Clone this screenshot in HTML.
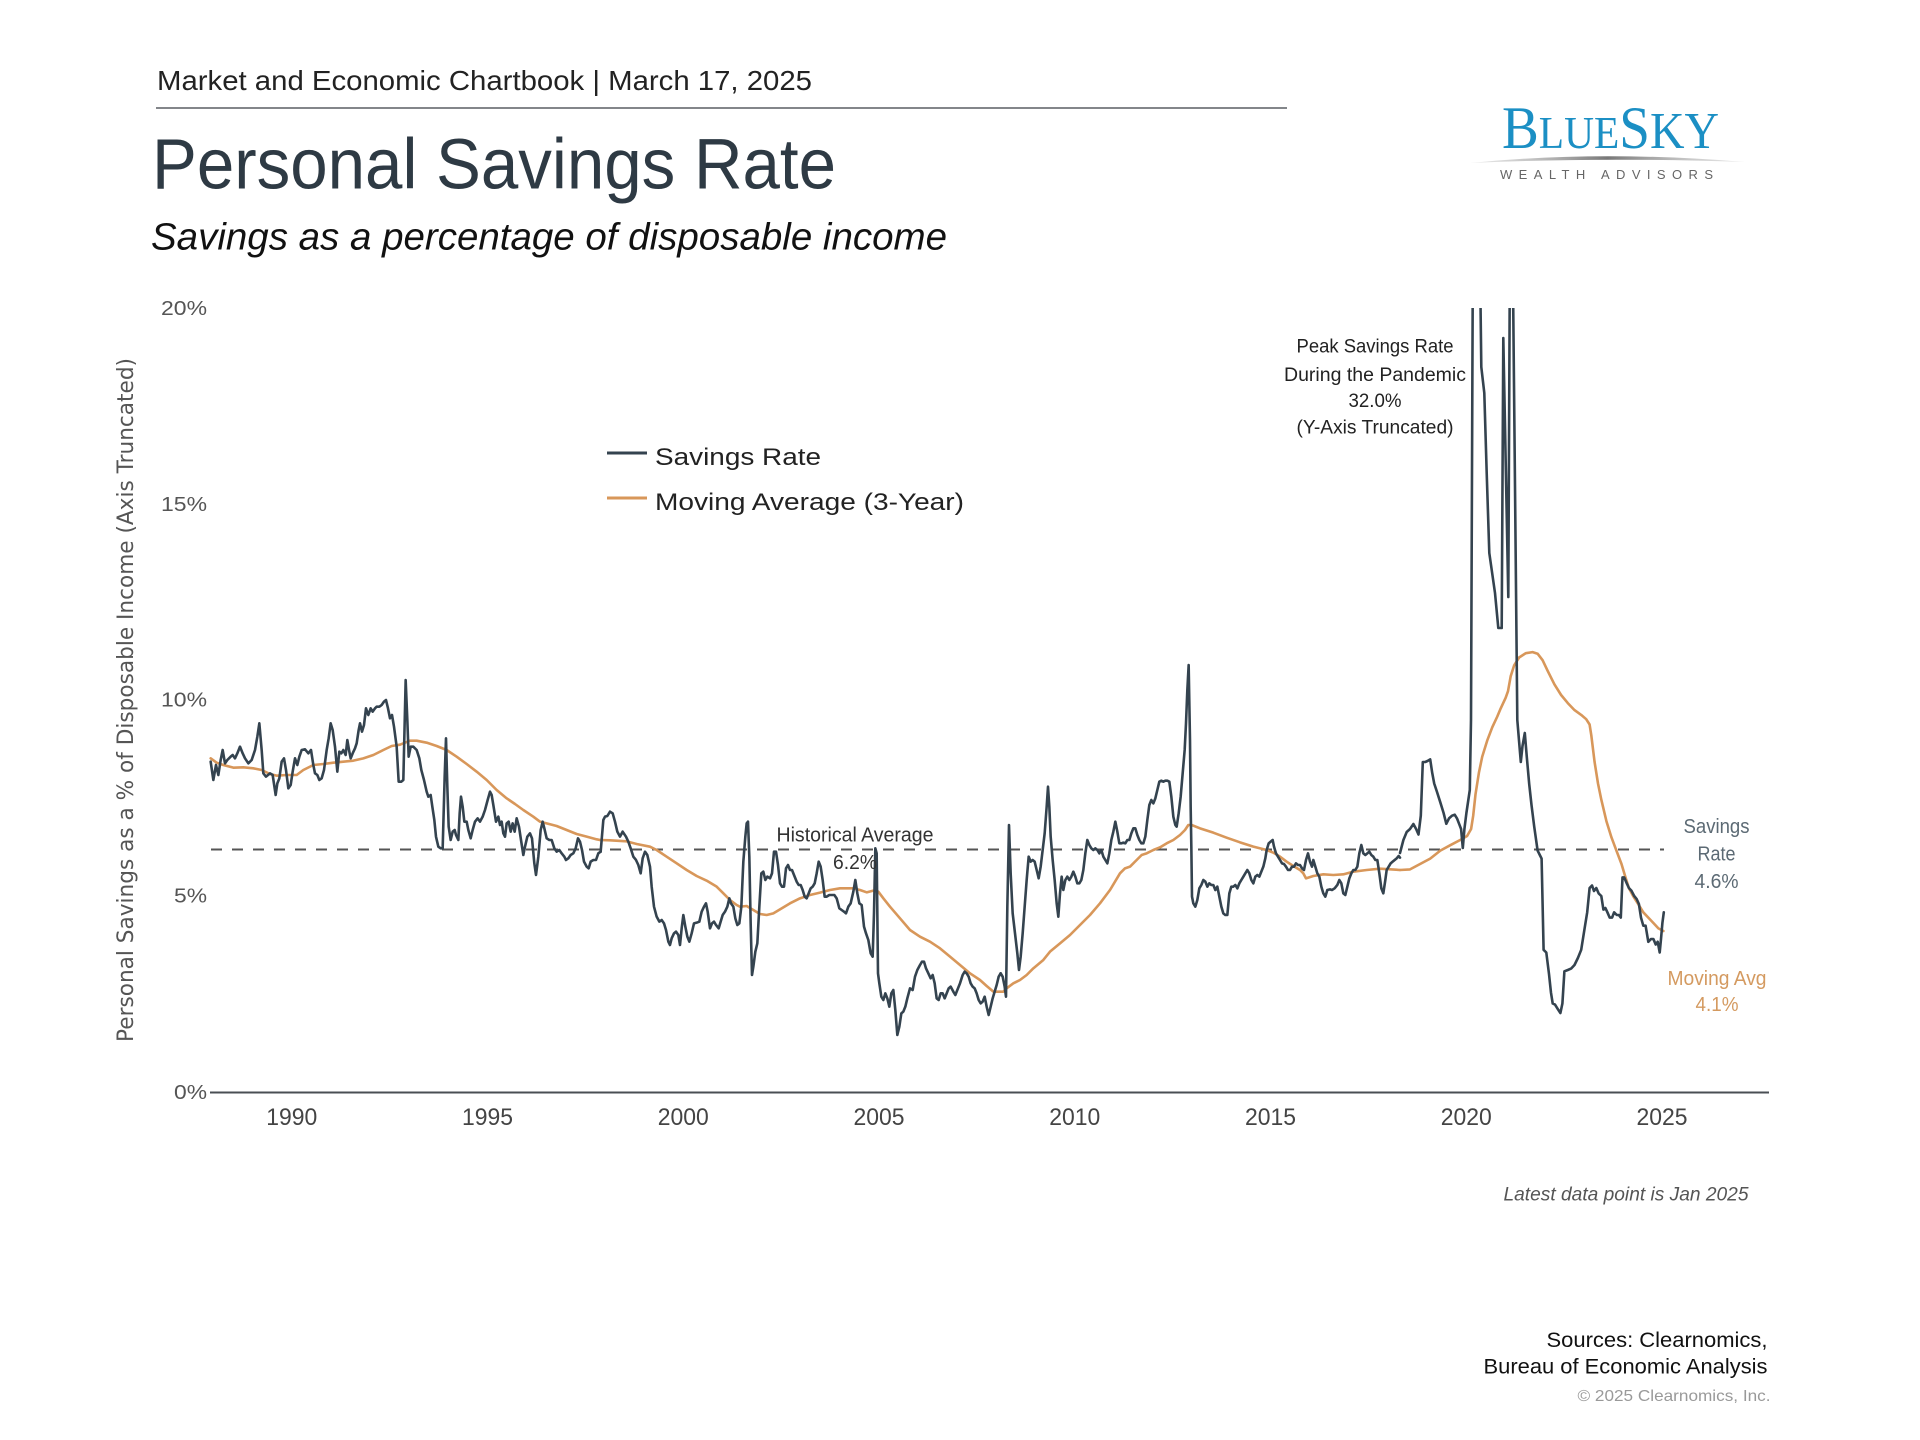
<!DOCTYPE html>
<html><head><meta charset="utf-8"><style>
html,body{margin:0;padding:0;background:#fff;}
svg{display:block;}
text{font-family:"Liberation Sans",sans-serif;}
</style></head><body>
<svg width="1920" height="1440" viewBox="0 0 1920 1440" xmlns="http://www.w3.org/2000/svg">
<defs>
<clipPath id="pc"><rect x="200" y="308" width="1600" height="800"/></clipPath>
<linearGradient id="sw" x1="0" x2="1" y1="0" y2="0">
<stop offset="0" stop-color="#bbb" stop-opacity="0.3"/><stop offset="0.5" stop-color="#777"/><stop offset="1" stop-color="#bbb" stop-opacity="0.3"/>
</linearGradient>
</defs>
<rect width="1920" height="1440" fill="#fff"/>

<text x="157" y="90" font-size="28" fill="#222" textLength="655" lengthAdjust="spacingAndGlyphs">Market and Economic Chartbook | March 17, 2025</text>
<line x1="156" y1="108" x2="1287" y2="108" stroke="#5a5f63" stroke-width="1.5"/>
<text x="152" y="188.5" font-size="71" fill="#2e3a44" textLength="684" lengthAdjust="spacingAndGlyphs">Personal Savings Rate</text>
<text x="151" y="249.5" font-size="38" font-style="italic" fill="#111" textLength="796" lengthAdjust="spacingAndGlyphs">Savings as a percentage of disposable income</text>

<text x="1502" y="148" fill="#1b8fc4" textLength="217" lengthAdjust="spacingAndGlyphs" style="font-family:'Liberation Serif',serif"><tspan font-size="60">B</tspan><tspan font-size="45">LUE</tspan><tspan font-size="60">S</tspan><tspan font-size="52">KY</tspan></text>
<path d="M1470,163 Q1600,150 1745,162 Q1600,157 1470,163Z" fill="url(#sw)"/>
<text x="1500" y="179" font-size="13" fill="#666" textLength="213" lengthAdjust="spacing">WEALTH  ADVISORS</text>

<g font-size="20" fill="#555" text-anchor="end">
<text x="207" y="315" textLength="46" lengthAdjust="spacingAndGlyphs">20%</text>
<text x="207" y="511" textLength="46" lengthAdjust="spacingAndGlyphs">15%</text>
<text x="207" y="706.5" textLength="46" lengthAdjust="spacingAndGlyphs">10%</text>
<text x="207" y="902.5" textLength="33" lengthAdjust="spacingAndGlyphs">5%</text>
<text x="207" y="1099" textLength="33" lengthAdjust="spacingAndGlyphs">0%</text>
</g>
<text transform="translate(133,700) rotate(-90)" text-anchor="middle" font-size="22" fill="#555" textLength="684" lengthAdjust="spacingAndGlyphs" style="font-family:'DejaVu Sans','Liberation Sans',sans-serif">Personal Savings as a % of Disposable Income (Axis Truncated)</text>

<g font-size="24" fill="#444" text-anchor="middle">
<text x="291.7" y="1125" textLength="51" lengthAdjust="spacingAndGlyphs">1990</text>
<text x="487.5" y="1125" textLength="51" lengthAdjust="spacingAndGlyphs">1995</text>
<text x="683.2" y="1125" textLength="51" lengthAdjust="spacingAndGlyphs">2000</text>
<text x="879" y="1125" textLength="51" lengthAdjust="spacingAndGlyphs">2005</text>
<text x="1074.7" y="1125" textLength="51" lengthAdjust="spacingAndGlyphs">2010</text>
<text x="1270.5" y="1125" textLength="51" lengthAdjust="spacingAndGlyphs">2015</text>
<text x="1466.2" y="1125" textLength="51" lengthAdjust="spacingAndGlyphs">2020</text>
<text x="1662" y="1125" textLength="51" lengthAdjust="spacingAndGlyphs">2025</text>
</g>

<line x1="210" y1="1092.5" x2="1769" y2="1092.5" stroke="#4a4f54" stroke-width="2"/>
<line x1="211" y1="849.5" x2="1664" y2="849.5" stroke="#555" stroke-width="2" stroke-dasharray="11 10"/>

<g clip-path="url(#pc)" fill="none" stroke-linejoin="round" stroke-linecap="round">
<g stroke="#d8975a" stroke-width="2.6">
<polyline transform="translate(200,640) scale(0.33333)" vector-effect="non-scaling-stroke" points="32,355 50,368 70,375 100,383 130,382 160,385 185,390 210,402 230,407 260,405 290,405 310,390 340,375 370,372 400,368 430,365 460,362 490,355 520,345 550,330 575,318 600,314 630,302 650,302 680,308 710,318 740,330 770,350 800,372 830,395 860,420 890,450 920,475 945,492 970,510 1000,530 1020,545 1040,550 1070,558 1100,570 1130,582 1160,590 1190,598 1200,600"/>
<polyline transform="translate(600,640) scale(0.33333)" vector-effect="non-scaling-stroke" points="0,600 30,601 80,604 110,612 150,620 170,630 200,650 230,670 260,690 290,708 320,722 350,740 370,760 390,780 410,795 420,800 440,798 460,810 480,822 500,825 520,820 540,808 570,790 600,775 630,765 660,758 690,750 720,745 760,745 780,750 800,757 820,752 835,755 850,775 870,800 900,835 930,870 960,890 990,905 1020,925 1050,950 1080,975 1110,1000 1140,1020 1160,1038 1180,1055 1200,1055"/>
<polyline transform="translate(1000,640) scale(0.33333)" vector-effect="non-scaling-stroke" points="0,1055 10,1055 20,1045 40,1030 60,1020 80,1005 100,985 130,960 150,935 180,910 210,885 240,855 270,825 300,790 330,750 360,700 375,685 390,680 410,660 425,645 440,640 460,630 480,622 500,610 520,600 540,585 555,570 565,555 575,555 600,565 640,578 680,593 720,607 760,620 800,630 820,638 840,650 860,665 880,678 900,690 910,700 918,715 940,708 970,703 1000,705 1030,703 1060,695 1100,690 1140,686 1170,688 1200,690"/>
<polyline points="1400,870 1410,869.4 1420.1,864 1430.2,858.6 1440.3,850.6 1450.3,845.2 1460.4,839.9 1467.1,836 1471.1,829 1473.2,815.7 1475.5,794.3 1478.9,772.8 1482.2,756.7 1487.2,740.6 1492.3,727.2 1497.3,716.5 1500.7,708.4 1505.7,697.7 1508,691.2 1510.7,676.2 1514.1,665.5 1519.1,657.5 1525.8,653.2 1532.6,652.1 1537.6,653.7 1542.6,660.2 1547.7,670.9 1554.4,684.3 1561.1,695 1567.8,703.1 1574.5,710.1 1581.2,714.9 1586.2,719.2 1589.6,724.5 1591.3,735.3 1594.6,762.1 1598,783.5 1601.3,799.6 1606.4,821.1 1611.4,837.2 1616.4,850.6 1621.5,864 1625.5,877.4 1628.9,888.1 1633.2,896.2 1638.3,904.2 1643.3,912.3 1648.3,917.6 1653.4,923 1658.4,928.4 1663.4,931"/>
</g>
<g stroke="#34434f" stroke-width="2.6">
<polyline transform="translate(200,640) scale(0.33333)" vector-effect="non-scaling-stroke" points="32,365 40,420 48,375 55,405 62,360 68,330 75,370 82,360 92,350 98,345 105,355 112,340 120,320 128,340 135,355 145,370 155,360 165,330 172,290 178,250 185,330 190,400 198,410 210,400 218,405 227,465 232,430 238,415 245,365 252,355 258,390 265,445 272,435 278,395 285,355 292,375 298,350 305,330 315,328 325,340 333,330 340,375 345,400 352,405 358,420 365,415 372,390 380,330 386,295 392,250 398,270 405,320 412,395 418,335 424,340 430,330 437,345 442,300 448,335 452,355 458,340 465,325 470,310 476,270 480,250 486,275 492,255 498,205 505,225 512,205 518,215 525,205 530,200 538,200 545,195 552,185 558,180 564,205 570,235 576,225 582,260 590,320 596,425 604,425 610,420 617,120 622,240 626,350 632,320 640,320 650,330 658,355 664,390 672,420 680,455 685,470 692,465 697,500 703,540 708,590 715,620 722,625 728,625 734,410 738,295 742,440 746,560 752,600 758,575 764,570 768,585 775,600 779,520 783,470 788,500 793,545 800,545 805,570 812,595 818,570 825,545 833,535 840,545 848,530 855,510 863,480 870,455 875,465 880,495 888,545 895,530 900,555 905,545 910,580 915,590 920,550 926,545 932,575 938,550 944,575 950,535 957,560 963,600 970,645 975,620 982,590 990,580 996,595 1003,670 1008,705 1015,650 1022,570 1028,545 1033,565 1040,595 1048,600 1055,600 1063,625 1070,635 1078,630 1085,640 1093,650 1098,660 1105,655 1112,645 1120,640 1127,625 1134,595 1140,605 1146,630 1152,665 1160,680 1166,685 1172,665 1180,660 1188,660 1195,640 1202,635"/>
<polyline transform="translate(600,640) scale(0.33333)" vector-effect="non-scaling-stroke" points="2,635 10,540 15,530 22,528 30,515 38,520 45,545 52,575 60,590 68,575 78,590 85,605 92,625 100,650 108,660 115,675 122,700 128,655 135,635 142,645 150,680 155,740 162,800 170,830 178,845 185,840 192,850 198,870 205,905 210,915 215,895 222,880 228,875 235,885 240,915 245,865 250,825 256,860 262,890 268,905 275,880 282,850 290,848 298,845 305,815 312,800 318,790 323,815 330,865 336,850 342,845 348,855 356,865 362,845 368,825 375,815 382,800 388,775 393,790 400,800 406,835 412,855 418,850 424,800 430,665 436,590 440,550 444,545 448,650 452,850 456,1005 460,980 466,935 472,910 478,800 484,700 490,695 496,720 502,710 510,715 516,700 522,635 528,635 534,675 540,730 546,740 552,740 558,685 564,675 570,690 576,690 582,705 590,725 596,735 602,735 608,750 614,770 620,775 626,760 632,745 638,740 644,730 650,700 656,665 662,680 668,720 674,770 680,770 688,765 695,765 703,765 710,775 718,805 725,810 732,815 738,820 745,800 752,790 760,755 766,720 772,760 778,790 785,795 792,860 798,880 805,900 812,940 818,950 822,820 826,625 830,640 834,1000 838,1030 844,1070 850,1080 856,1060 862,1075 868,1100 874,1060 880,1050 886,1110 892,1185 898,1160 904,1120 910,1115 916,1100 922,1075 930,1045 938,1050 945,1010 952,990 960,975 966,965 972,965 978,985 985,1000 992,1015 998,1005 1004,1030 1010,1075 1016,1080 1022,1060 1028,1060 1034,1075 1040,1060 1046,1045 1052,1040 1060,1055 1066,1065 1072,1050 1080,1030 1088,1005 1094,995 1100,1000 1106,1010 1112,1030 1118,1040 1124,1045 1130,1060 1136,1080 1142,1090 1148,1085 1154,1070 1160,1100 1166,1125 1172,1100 1178,1075 1184,1055 1190,1035 1196,1010 1202,1000"/>
<polyline transform="translate(1000,640) scale(0.33333)" vector-effect="non-scaling-stroke" points="2,1000 8,1010 14,1040 18,1070 22,800 27,555 32,700 38,820 45,880 52,940 57,990 62,950 68,880 74,800 80,720 86,650 92,665 98,660 104,665 110,690 116,715 122,680 128,630 134,580 140,500 144,440 148,500 152,590 158,660 164,720 170,790 175,830 180,760 185,710 190,750 196,720 202,710 208,720 214,710 220,695 226,710 232,730 238,730 244,720 250,690 256,640 262,600 268,615 274,625 280,630 286,625 292,630 298,640 304,630 310,650 316,660 322,670 328,640 334,600 340,575 346,545 352,575 358,610 364,610 370,608 376,610 382,600 388,600 394,580 400,565 406,565 412,585 418,600 424,610 430,610 436,590 442,540 448,495 454,480 460,490 466,475 472,450 478,425 484,422 490,425 496,422 502,422 508,425 514,470 520,530 526,555 530,560 536,520 542,470 548,400 554,330 558,250 562,150 566,75 570,300 572,500 574,620 576,770 580,790 586,800 592,780 598,745 604,735 610,720 616,725 622,740 628,730 634,735 640,735 646,750 652,740 658,770 664,800 670,820 676,825 682,825 688,760 694,740 700,740 706,735 712,745 718,730 724,720 730,710 736,700 742,690 748,700 754,720 760,730 766,710 772,705 778,710 784,695 790,680 796,655 800,630 806,610 812,605 818,600 822,620 828,640 834,650 840,660 846,670 852,672 858,680 864,690 870,690 876,680 882,680 888,670 894,675 900,675 906,685 912,690 918,660 924,640 930,665 936,680 940,660 946,680 952,700 958,710 964,740 970,760 976,770 982,750 990,748 996,750 1004,745 1012,735 1018,720 1024,730 1030,760 1036,765 1042,740 1048,715 1054,700 1060,690 1066,690 1072,680 1078,640 1084,615 1090,640 1096,645 1102,640 1108,635 1114,645 1120,650 1126,660 1132,660 1138,700 1144,745 1150,760 1156,720 1160,690 1166,680 1172,670 1178,665 1184,660 1190,655 1196,648 1200,653"/>
<polyline points="1400,853 1403.4,840 1406.7,832 1410,829 1413.4,824 1416.1,829 1418.5,834.5 1420.8,815.7 1422.8,762 1425.2,762 1427.5,761 1430.2,759.4 1432.2,772.8 1434.2,783.5 1436.9,791.6 1440.3,802.3 1443.6,813 1446.3,823.8 1449,818.4 1452,815.7 1454.7,814.7 1457,818.4 1459.1,823.8 1461.1,829.1 1462.8,848 1464.4,829.1 1466.4,813 1469.8,790 1471,720 1474.5,-150 1478,100 1481.3,367 1484.3,393 1486.7,473 1489.3,553 1495,593 1498.3,628 1501.7,628 1503.3,338 1508.3,597 1510.8,60 1517.3,720 1520.8,762 1522.5,746 1524.8,733 1526.8,757 1529.2,784 1531.5,805 1534.2,826.5 1537.6,850.6 1540.3,856 1541.6,858.6 1543.6,949.8 1546.3,952.5 1549,974 1551,992.8 1552.7,1003.5 1555,1004.6 1557.7,1008.9 1560.4,1013 1562.4,1003.5 1564.4,971.3 1567.8,970 1571.1,968.6 1574.5,965 1577.9,958 1581.2,949.8 1584.6,928.4 1587.2,912.3 1589.6,888 1592,885.5 1594,891 1596.3,888 1598.7,893.5 1601.3,896 1603.4,909.6 1605.4,908 1607.4,912.3 1609.7,917.6 1612.1,917.6 1614.1,912.3 1616.8,915 1618.8,915 1620.8,917.6 1622.5,877.4 1624.2,877.4 1626.5,882.8 1628.9,888 1631.5,890.8 1634.2,896 1636.6,898.9 1638.9,904 1641,917.6 1643.3,925.7 1645.6,925.7 1648.3,941.8 1651,939 1653.4,939 1655.7,944.5 1657.7,941.8 1659.7,952.5 1661,939 1662.4,923 1663.8,912.3"/>
</g>
</g>

<line x1="607" y1="453" x2="647" y2="453" stroke="#34434f" stroke-width="3"/>
<text x="655" y="465" font-size="24" fill="#222" textLength="166" lengthAdjust="spacingAndGlyphs">Savings Rate</text>
<line x1="607" y1="498" x2="647" y2="498" stroke="#d8975a" stroke-width="3"/>
<text x="655" y="510" font-size="24" fill="#222" textLength="309" lengthAdjust="spacingAndGlyphs">Moving Average (3-Year)</text>

<g font-size="19" fill="#222" text-anchor="middle">
<text x="1375" y="352.5" textLength="157" lengthAdjust="spacingAndGlyphs">Peak Savings Rate</text>
<text x="1375" y="381" textLength="182" lengthAdjust="spacingAndGlyphs">During the Pandemic</text>
<text x="1375" y="407" textLength="53" lengthAdjust="spacingAndGlyphs">32.0%</text>
<text x="1375" y="433.5" textLength="157" lengthAdjust="spacingAndGlyphs">(Y-Axis Truncated)</text>
</g>

<g font-size="20" fill="#333" text-anchor="middle">
<text x="855" y="841.5" textLength="157" lengthAdjust="spacingAndGlyphs">Historical Average</text>
<text x="855" y="869" textLength="44" lengthAdjust="spacingAndGlyphs">6.2%</text>
</g>

<g font-size="20" fill="#5c6a74" text-anchor="middle">
<text x="1716.5" y="833" textLength="66" lengthAdjust="spacingAndGlyphs">Savings</text>
<text x="1716.5" y="860.5" textLength="38" lengthAdjust="spacingAndGlyphs">Rate</text>
<text x="1716.5" y="888" textLength="44" lengthAdjust="spacingAndGlyphs">4.6%</text>
</g>
<g font-size="20" fill="#d49a60" text-anchor="middle">
<text x="1717" y="985" textLength="99" lengthAdjust="spacingAndGlyphs">Moving Avg</text>
<text x="1717" y="1011" textLength="43" lengthAdjust="spacingAndGlyphs">4.1%</text>
</g>

<text x="1503.5" y="1200.5" font-size="19" font-style="italic" fill="#555" textLength="245" lengthAdjust="spacingAndGlyphs">Latest data point is Jan 2025</text>
<text x="1767.5" y="1347" font-size="21" fill="#111" text-anchor="end" textLength="221" lengthAdjust="spacingAndGlyphs">Sources: Clearnomics,</text>
<text x="1767.5" y="1373.5" font-size="21" fill="#111" text-anchor="end" textLength="284" lengthAdjust="spacingAndGlyphs">Bureau of Economic Analysis</text>
<text x="1770.5" y="1401" font-size="16" fill="#999" text-anchor="end" textLength="193" lengthAdjust="spacingAndGlyphs">© 2025 Clearnomics, Inc.</text>
</svg>
</body></html>
